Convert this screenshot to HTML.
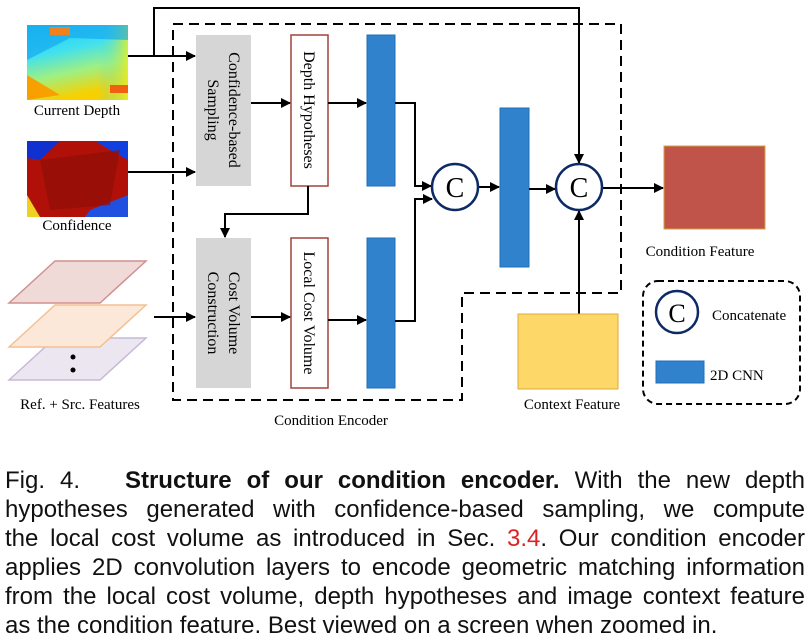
<!DOCTYPE html>
<html><head><meta charset="utf-8"><style>
body{margin:0;width:810px;height:643px;background:#fff;overflow:hidden;position:relative}
svg{position:absolute;left:0;top:0}
.cap{position:absolute;left:5px;width:800px;font-family:"Liberation Sans",sans-serif;font-size:24px;line-height:29px;color:#111}
.cap div{text-align:justify;text-align-last:justify;white-space:nowrap}
.r{color:#d22}
</style></head><body>
<svg width="810" height="450" viewBox="0 0 810 450" font-family="Liberation Serif,serif">
<defs>
<marker id="a" markerWidth="10" markerHeight="10" refX="9" refY="5" orient="auto" markerUnits="userSpaceOnUse"><path d="M0,0 L10,5 L0,10 z" fill="#000"/></marker>
<linearGradient id="dg" x1="0" y1="0" x2="0.3" y2="1"><stop offset="0" stop-color="#20c8f0"/><stop offset="0.4" stop-color="#40e0f0"/><stop offset="0.7" stop-color="#a0f080"/><stop offset="1" stop-color="#f8d000"/></linearGradient>
<linearGradient id="dg2" x1="1" y1="0" x2="0" y2="0"><stop offset="0" stop-color="#e8f020" stop-opacity="0.8"/><stop offset="0.3" stop-color="#40e0f0" stop-opacity="0"/></linearGradient>
</defs>
<rect x="27" y="25" width="101" height="75" fill="url(#dg)"/>
<rect x="27" y="25" width="101" height="75" fill="url(#dg2)"/>
<path d="M27,25 L128,25 L128,40 L70,38 L27,60 z" fill="#10a0f0" opacity="0.6"/>
<rect x="50" y="27" width="20" height="8" fill="#f08020"/>
<path d="M27,75 L60,95 L27,100z" fill="#f8a000"/>
<rect x="110" y="85" width="18" height="8" fill="#f06010"/>
<text x="77" y="115" font-size="15" text-anchor="middle">Current Depth</text>
<rect x="27" y="141" width="101" height="76" fill="#b01008"/>
<path d="M27,141 L60,141 L40,160 L27,158z" fill="#1030d0"/>
<path d="M95,141 L128,141 L128,160 L110,150z" fill="#1040e0"/>
<path d="M90,210 L128,195 L128,217 L85,217z" fill="#2050e0"/>
<path d="M27,195 L40,217 L27,217z" fill="#f0d020"/>
<path d="M40,160 L120,150 L110,205 L50,210z" fill="#901008" opacity="0.7"/>
<text x="77" y="230" font-size="15" text-anchor="middle">Confidence</text>
<polygon points="9,303 55,261 146,261 100,303" fill="#f0dad8" stroke="#d09090" stroke-width="1.5"/>
<polygon points="9,380 55,338 146,338 100,380" fill="#ece6f0" stroke="#c8b8d8" stroke-width="1.5"/>
<polygon points="9,347 55,305 146,305 100,347" fill="#fce8d8" stroke="#f4c090" stroke-width="1.5"/>
<circle cx="73" cy="357" r="2.5"/><circle cx="73" cy="370" r="2.5"/>
<text x="80" y="409" font-size="15" text-anchor="middle">Ref. + Src. Features</text>
<polygon points="173,24 621,24 621,293 462,293 462,400 173,400" fill="none" stroke="#000" stroke-width="2" stroke-dasharray="10,6"/>
<text x="331" y="425" font-size="15" text-anchor="middle">Condition Encoder</text>
<rect x="196" y="35" width="55" height="151" fill="#d6d6d6"/>
<rect x="196" y="238" width="55" height="150" fill="#d6d6d6"/>
<text transform="translate(229,110) rotate(90)" font-size="16" text-anchor="middle">Confidence-based</text>
<text transform="translate(208,110) rotate(90)" font-size="16" text-anchor="middle">Sampling</text>
<text transform="translate(229,313) rotate(90)" font-size="16" text-anchor="middle">Cost Volume</text>
<text transform="translate(208,313) rotate(90)" font-size="16" text-anchor="middle">Construction</text>
<rect x="291" y="35" width="37" height="151" fill="#fff" stroke="#a0443a" stroke-width="1.5"/>
<rect x="291" y="238" width="37" height="150" fill="#fff" stroke="#a0443a" stroke-width="1.5"/>
<text transform="translate(304,110) rotate(90)" font-size="16" text-anchor="middle">Depth Hypotheses</text>
<text transform="translate(304,313) rotate(90)" font-size="16" text-anchor="middle">Local Cost Volume</text>
<rect x="367" y="35" width="28" height="151" fill="#3182cc" stroke="#1f6fb8"/>
<rect x="367" y="238" width="28" height="150" fill="#3182cc" stroke="#1f6fb8"/>
<rect x="500" y="108" width="29" height="159" fill="#3182cc" stroke="#1f6fb8"/>
<g stroke="#000" stroke-width="2" fill="none">
<path d="M128,56 H195" marker-end="url(#a)"/>
<path d="M154,56 V8 H579 V163" marker-end="url(#a)"/>
<path d="M128,172 H195" marker-end="url(#a)"/>
<path d="M154,317 H195" marker-end="url(#a)"/>
<path d="M251,103 H290" marker-end="url(#a)"/>
<path d="M328,103 H366" marker-end="url(#a)"/>
<path d="M308,186 V214 H225 V237" marker-end="url(#a)"/>
<path d="M251,317 H290" marker-end="url(#a)"/>
<path d="M328,320 H366" marker-end="url(#a)"/>
<path d="M395,103 H415 V186 H431" marker-end="url(#a)"/>
<path d="M395,321 H415 V199 H432" marker-end="url(#a)"/>
<path d="M478,187 H499" marker-end="url(#a)"/>
<path d="M529,189 H555" marker-end="url(#a)"/>
<path d="M602,188 H663" marker-end="url(#a)"/>
<path d="M579,314 V211" marker-end="url(#a)"/>
</g>
<circle cx="455" cy="187" r="23" fill="#fff" stroke="#0d2a66" stroke-width="2.5"/>
<circle cx="579" cy="187" r="23" fill="#fff" stroke="#0d2a66" stroke-width="2.5"/>
<text x="455" y="197" font-size="28" text-anchor="middle">C</text>
<text x="579" y="197" font-size="28" text-anchor="middle">C</text>
<rect x="664" y="146" width="101" height="83" fill="#c0534a" stroke="#d4a03a"/>
<text x="700" y="256" font-size="15" text-anchor="middle">Condition Feature</text>
<rect x="518" y="314" width="100" height="75" fill="#fdd868" stroke="#e0a83a"/>
<text x="572" y="409" font-size="15" text-anchor="middle">Context Feature</text>
<rect x="643" y="281" width="157" height="123" rx="15" fill="none" stroke="#000" stroke-width="2" stroke-dasharray="6,4"/>
<circle cx="677" cy="312" r="21" fill="#fff" stroke="#0d2a66" stroke-width="2.5"/>
<text x="677" y="322" font-size="26" text-anchor="middle">C</text>
<text x="712" y="320" font-size="15">Concatenate</text>
<rect x="656" y="361" width="48" height="22" fill="#3182cc" stroke="#1f6fb8"/>
<text x="710" y="380" font-size="15">2D CNN</text>
</svg>
<div class="cap" style="top:466px">
<div>Fig. 4.&nbsp;&nbsp; <b>Structure of our condition encoder.</b> With the new depth</div>
<div>hypotheses generated with confidence-based sampling, we compute</div>
<div>the local cost volume as introduced in Sec. <span class="r">3.4</span>. Our condition encoder</div>
<div>applies 2D convolution layers to encode geometric matching information</div>
<div>from the local cost volume, depth hypotheses and image context feature</div>
<div style="text-align-last:left">as the condition feature. Best viewed on a screen when zoomed in.</div>
</div>
</body></html>
